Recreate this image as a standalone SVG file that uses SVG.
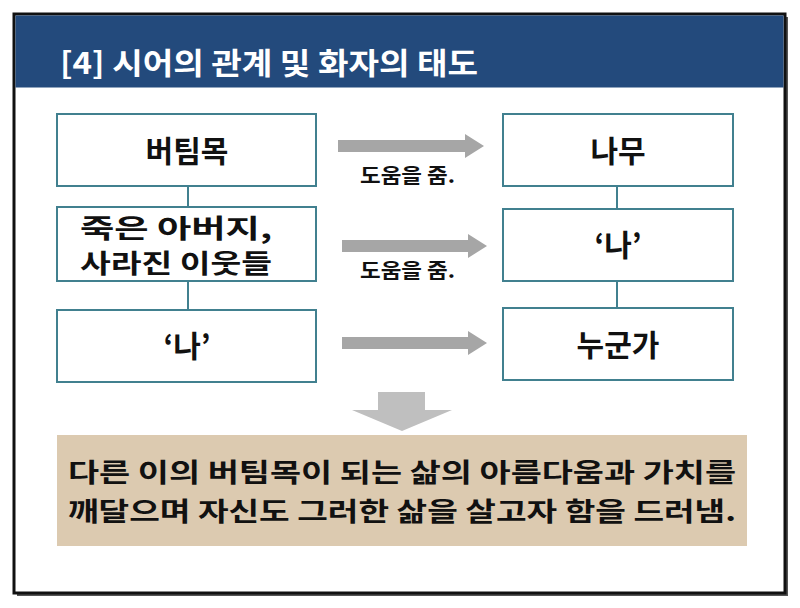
<svg xmlns="http://www.w3.org/2000/svg" width="800" height="608" viewBox="0 0 800 608">
<style>
.box{fill:#fff;stroke:#41808f;stroke-width:2}
.t{font-family:"Noto Sans CJK KR","Noto Sans",sans-serif;font-weight:bold;fill:#111;text-anchor:middle}
.lbl{font-family:"Noto Sans CJK KR",sans-serif;font-weight:bold;font-size:20px;fill:#111}
.arr{fill:#a6a6a6}
.ln{stroke:#41808f;stroke-width:2}
</style>
<rect x="0" y="0" width="800" height="608" fill="#fff"/>
<rect x="17" y="17" width="771" height="579" fill="#555"/>
<rect x="14" y="14" width="771" height="579" fill="#fff" stroke="#111" stroke-width="3"/>
<rect x="15.5" y="15.5" width="768" height="72" fill="#234a7c"/>
<text x="60" y="74" font-family="Noto Sans CJK KR,sans-serif" font-weight="bold" font-size="30" fill="#fff" textLength="418" lengthAdjust="spacingAndGlyphs">[4] 시어의 관계 및 화자의 태도</text>
<g id="connectors">
<line class="ln" x1="188" y1="186" x2="188" y2="207"/>
<line class="ln" x1="188" y1="281" x2="188" y2="310"/>
<line class="ln" x1="617" y1="186" x2="617" y2="209"/>
<line class="ln" x1="617" y1="281" x2="617" y2="308"/>
<polygon class="arr" points="338,140 465,140 465,134 484,146 465,158 465,152 338,152"/>
<polygon class="arr" points="342,240 468,240 468,234 487,246 468,258 468,252 342,252"/>
<polygon class="arr" points="342,337 468,337 468,331 487,343 468,355 468,349 342,349"/>
<polygon fill="#bfbfbf" points="378,392 425,392 425,410 452,410 402,431 352,410 378,410"/>
<text class="lbl" x="360" y="183" textLength="95" lengthAdjust="spacingAndGlyphs">도움을 줌.</text>
<text class="lbl" x="360" y="278" textLength="95" lengthAdjust="spacingAndGlyphs">도움을 줌.</text>
</g>
<g id="n1"><rect class="box" x="57" y="114" width="259" height="72"/><text class="t" x="187" y="162" font-size="30">버팀목</text></g>
<g id="n2"><rect class="box" x="57" y="207" width="259" height="74"/><text class="t" x="176" y="238" font-size="26" textLength="192" lengthAdjust="spacingAndGlyphs">죽은 아버지,</text><text class="t" x="176" y="273" font-size="26" textLength="192" lengthAdjust="spacingAndGlyphs">사라진 이웃들</text></g>
<g id="n3"><rect class="box" x="57" y="310" width="259" height="72"/><text class="t" x="187" y="357" font-size="30">‘나’</text></g>
<g id="n4"><rect class="box" x="503" y="114" width="230" height="72"/><text class="t" x="618" y="162" font-size="30">나무</text></g>
<g id="n5"><rect class="box" x="503" y="209" width="230" height="72"/><text class="t" x="618" y="256" font-size="30">‘나’</text></g>
<g id="n6"><rect class="box" x="503" y="308" width="230" height="72"/><text class="t" x="618" y="356" font-size="30">누군가</text></g>
<g id="result"><rect x="57" y="435" width="690" height="111" fill="#dccab0"/>
<text class="t" x="402" y="482" font-size="26" textLength="668" lengthAdjust="spacingAndGlyphs">다른 이의 버팀목이 되는 삶의 아름다움과 가치를</text>
<text class="t" x="402" y="521" font-size="26" textLength="668" lengthAdjust="spacingAndGlyphs">깨달으며 자신도 그러한 삶을 살고자 함을 드러냄.</text></g>
</svg>
